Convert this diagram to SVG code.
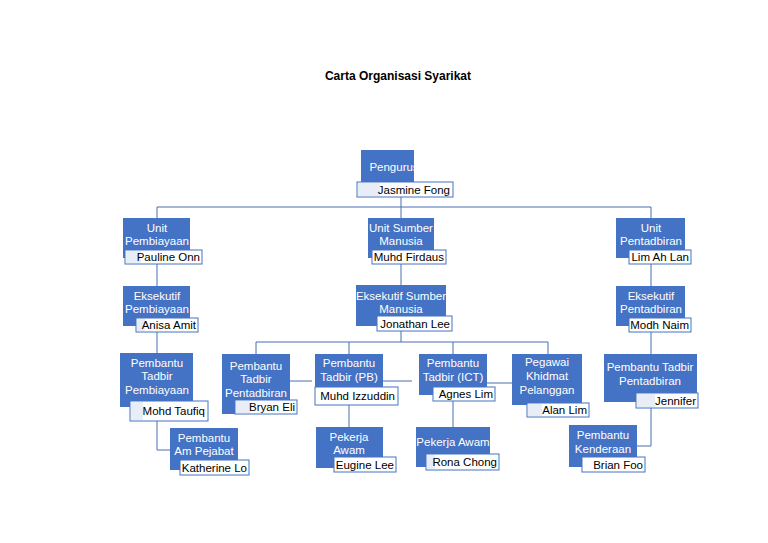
<svg xmlns="http://www.w3.org/2000/svg" width="768" height="543" viewBox="0 0 768 543">
<style>
.b{fill:#4472C4}
.n{fill:#fff;stroke:#4472C4;stroke-width:1}
.s{fill:#e8edf6}
.t{font-family:"Liberation Sans",Arial,sans-serif;font-size:11.5px;fill:#fff;text-anchor:middle}
.m{font-family:"Liberation Sans",Arial,sans-serif;font-size:11.5px;fill:#000;text-anchor:end}
#c path{fill:none;stroke:#4a6fb0;stroke-width:1}
</style>
<rect width="768" height="543" fill="#fff"/>
<text x="398" y="80" font-family="Liberation Sans,Arial,sans-serif" font-size="12" font-weight="bold" text-anchor="middle">Carta Organisasi Syarikat</text>
<g id="c">
<path d="M401 197V218M157 207H651M157 207V218M651 207V218"/>
<path d="M157 264V286M401 264V285M651 264V286"/>
<path d="M157 332V354M157 421V450H170"/>
<path d="M401 331V342M256 342H548M256 342V354M349 342V354M453 342V354M548 342V354"/>
<path d="M237 381H312M383 381H412M486 383H562"/>
<path d="M349 405V427M453 401V427"/>
<path d="M651 332V354M651 408V446H637"/>
</g>
<g id="pengurus"><rect class="b" x="361" y="150" width="53" height="33"/><rect class="n" x="357" y="182" width="96" height="15"/><rect class="s" x="358" y="183" width="22" height="13"/><text class="t" x="394" y="171">Pengurus</text><text class="m" x="450" y="194">Jasmine Fong</text></g>
<g id="unit-pembiayaan"><rect class="b" x="123" y="218" width="67" height="40"/><rect class="n" x="125" y="250" width="77" height="14"/><rect class="s" x="126" y="251" width="15" height="12"/><text class="t" x="157" y="232">Unit</text><text class="t" x="157" y="245">Pembiayaan</text><text class="m" x="200" y="261">Pauline Onn</text></g>
<g id="unit-sm"><rect class="b" x="368" y="218" width="66" height="40"/><rect class="n" x="372" y="250" width="74" height="14"/><text class="t" x="401" y="232">Unit Sumber</text><text class="t" x="401" y="245">Manusia</text><text class="m" x="444" y="261">Muhd Firdaus</text></g>
<g id="unit-pentadbiran"><rect class="b" x="616" y="218" width="69" height="40"/><rect class="n" x="629" y="250" width="62" height="14"/><text class="t" x="651" y="232">Unit</text><text class="t" x="651" y="245">Pentadbiran</text><text class="m" x="689" y="261">Lim Ah Lan</text></g>
<g id="eks-pembiayaan"><rect class="b" x="123" y="286" width="67" height="40"/><rect class="n" x="136" y="318" width="62" height="14"/><rect class="s" x="137" y="319" width="8" height="12"/><text class="t" x="157" y="300">Eksekutif</text><text class="t" x="157" y="313">Pembiayaan</text><text class="m" x="196" y="329">Anisa Amit</text></g>
<g id="eks-sm"><rect class="b" x="356" y="285" width="90" height="41"/><rect class="n" x="377" y="316" width="75" height="15"/><text class="t" x="401" y="300">Eksekutif Sumber</text><text class="t" x="401" y="313">Manusia</text><text class="m" x="450" y="328">Jonathan Lee</text></g>
<g id="eks-pentadbiran"><rect class="b" x="616" y="286" width="69" height="40"/><rect class="n" x="629" y="318" width="62" height="14"/><text class="t" x="651" y="300">Eksekutif</text><text class="t" x="651" y="313">Pentadbiran</text><text class="m" x="689" y="329">Modh Naim</text></g>
<g id="ptp-pembiayaan"><rect class="b" x="120" y="353" width="73" height="54"/><rect class="n" x="130" y="401" width="78" height="20"/><rect class="s" x="131" y="402" width="12" height="18"/><text class="t" x="157" y="367">Pembantu</text><text class="t" x="157" y="380">Tadbir</text><text class="t" x="157" y="394">Pembiayaan</text><text class="m" x="205" y="415">Mohd Taufiq</text></g>
<g id="pam-pejabat"><rect class="b" x="170" y="428" width="68" height="42"/><rect class="n" x="180" y="460" width="69" height="15"/><text class="t" x="204" y="442">Pembantu</text><text class="t" x="204" y="455">Am Pejabat</text><text class="m" x="247" y="472">Katherine Lo</text></g>
<g id="pt-pentadbiran"><rect class="b" x="222" y="354" width="68" height="60"/><rect class="n" x="235" y="400" width="62" height="14"/><rect class="s" x="236" y="401" width="14" height="12"/><text class="t" x="256" y="370">Pembantu</text><text class="t" x="256" y="383">Tadbir</text><text class="t" x="256" y="397">Pentadbiran</text><text class="m" x="295" y="411">Bryan Eli</text></g>
<g id="pt-pb"><rect class="b" x="315" y="354" width="68" height="42"/><rect class="n" x="315" y="387" width="83" height="18"/><text class="t" x="349" y="367">Pembantu</text><text class="t" x="349" y="381">Tadbir (PB)</text><text class="m" x="395" y="400">Muhd Izzuddin</text></g>
<g id="pt-ict"><rect class="b" x="419" y="354" width="68" height="41"/><rect class="n" x="433" y="387" width="62" height="14"/><text class="t" x="453" y="367">Pembantu</text><text class="t" x="453" y="381">Tadbir (ICT)</text><text class="m" x="493" y="398">Agnes Lim</text></g>
<g id="pegawai-kp"><rect class="b" x="512" y="354" width="70" height="51"/><rect class="n" x="527" y="403" width="62" height="14"/><rect class="s" x="528" y="404" width="14" height="12"/><text class="t" x="547" y="366">Pegawai</text><text class="t" x="547" y="380">Khidmat</text><text class="t" x="547" y="394">Pelanggan</text><text class="m" x="587" y="414">Alan Lim</text></g>
<g id="pekerja-awam-1"><rect class="b" x="316" y="427" width="67" height="41"/><rect class="n" x="334" y="457" width="62" height="15"/><text class="t" x="349" y="441">Pekerja</text><text class="t" x="349" y="454">Awam</text><text class="m" x="394" y="469">Eugine Lee</text></g>
<g id="pekerja-awam-2"><rect class="b" x="416" y="427" width="74" height="40"/><rect class="n" x="426" y="454" width="73" height="16"/><rect class="s" x="427" y="455" width="8" height="14"/><text class="t" x="453" y="446">Pekerja Awam</text><text class="m" x="497" y="466">Rona Chong</text></g>
<g id="pt-pentadbiran-2"><rect class="b" x="604" y="354" width="93" height="48"/><rect class="n" x="636" y="393" width="62" height="15"/><rect class="s" x="637" y="394" width="18" height="13"/><text class="t" x="650" y="371">Pembantu Tadbir</text><text class="t" x="650" y="385">Pentadbiran</text><text class="m" x="696" y="405">Jennifer</text></g>
<g id="p-kenderaan"><rect class="b" x="569" y="425" width="68" height="42"/><rect class="n" x="582" y="457" width="63" height="15"/><text class="t" x="603" y="439">Pembantu</text><text class="t" x="603" y="453">Kenderaan</text><text class="m" x="643" y="469">Brian Foo</text></g>
</svg>
